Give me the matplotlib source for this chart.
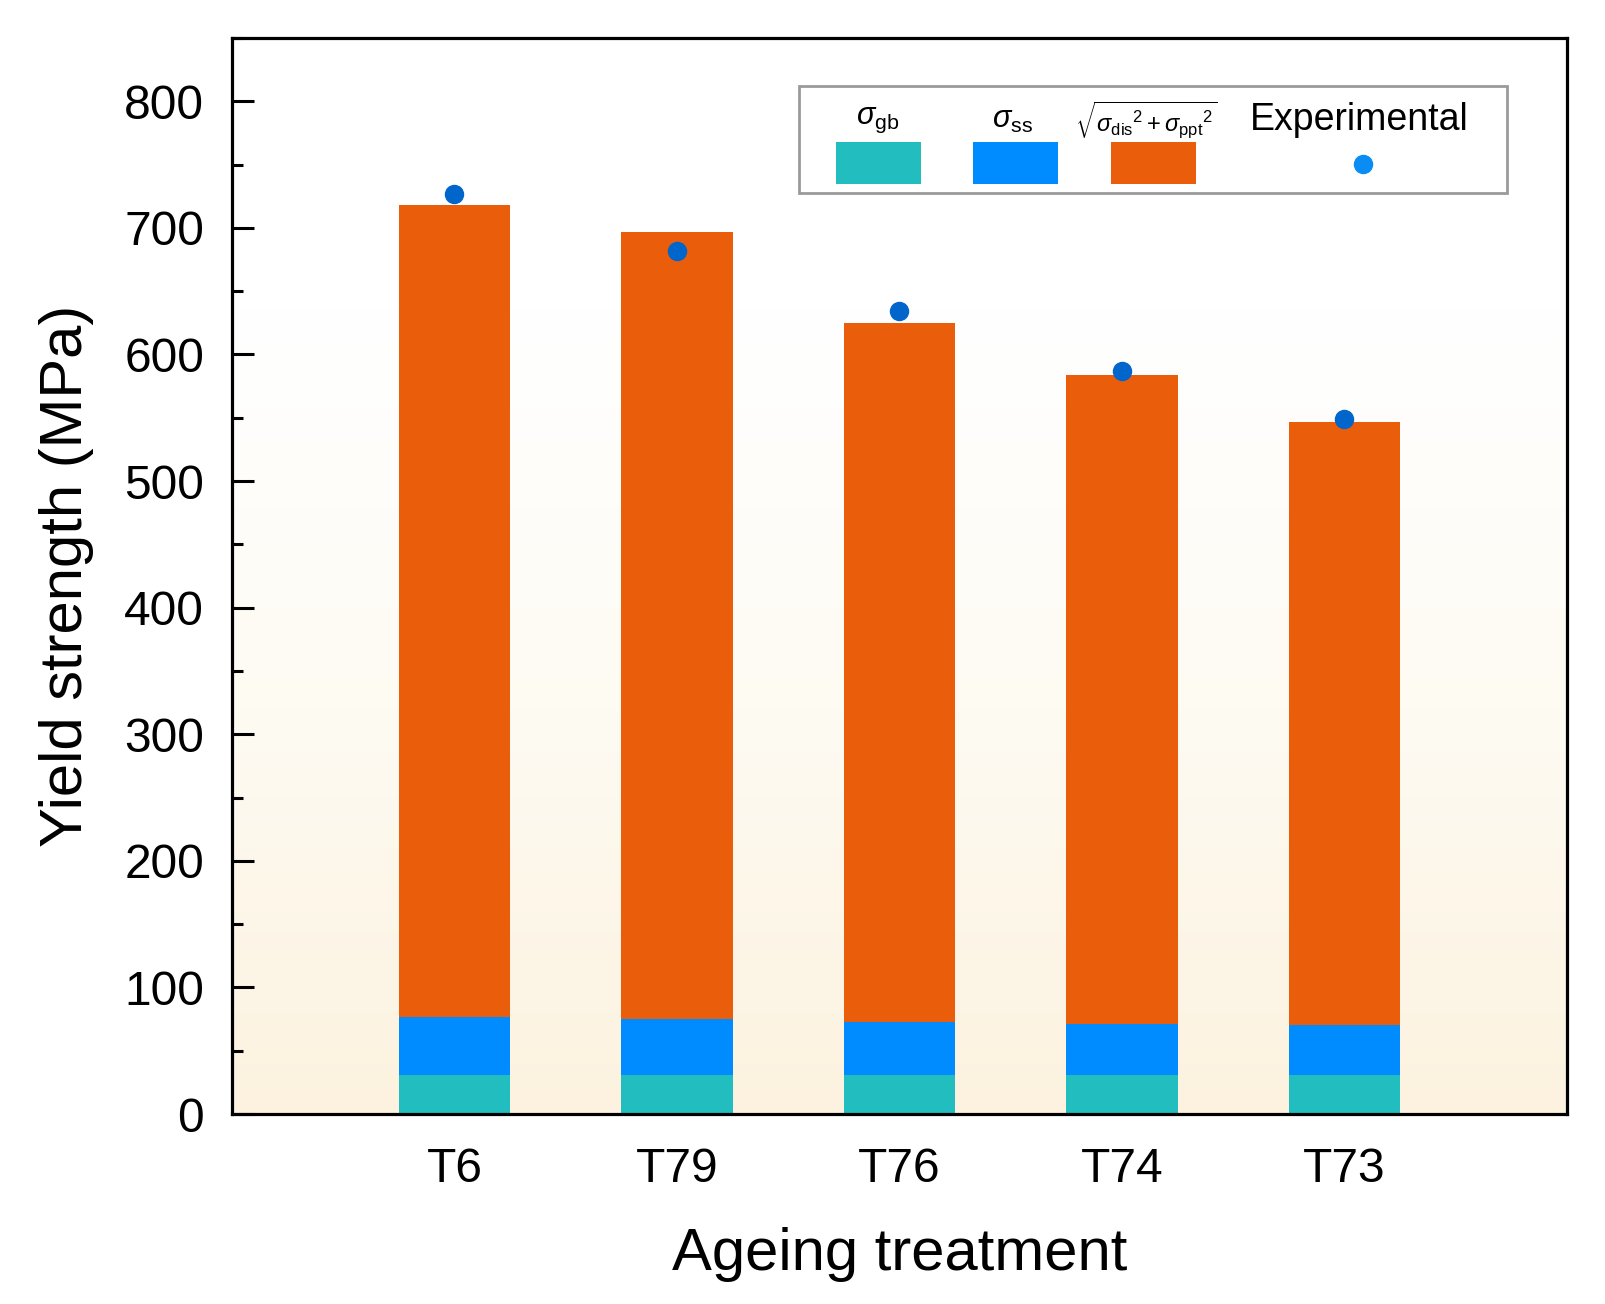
import numpy as np
import matplotlib
matplotlib.use("Agg")
import matplotlib.pyplot as plt
from matplotlib.colors import LinearSegmentedColormap
from matplotlib.patches import Rectangle
from matplotlib.ticker import MultipleLocator

plt.rcParams['font.family'] = ['Liberation Sans', 'DejaVu Sans']
plt.rcParams['mathtext.fontset'] = 'custom'
plt.rcParams['mathtext.rm'] = 'Liberation Sans'
plt.rcParams['mathtext.it'] = 'Liberation Sans:italic'

# %%
# Data (MPa)
treatments = ['T6', 'T79', 'T76', 'T74', 'T73']
sigma_gb = [31, 31, 31, 31, 31]
sigma_ss = [46, 44, 42, 40, 39]
sigma_dis_ppt = [641, 622, 552, 513, 477]
experimental = [727, 682, 634, 587, 549]

c_gb = '#21BDBF'
c_ss = '#008CFF'
c_ppt = '#EA5D0A'
c_exp = '#0066CC'
c_exp_leg = '#0A8CF5'

# %%
fig = plt.figure(figsize=(16.05, 13.04), dpi=100)
ax = fig.add_axes([0.1445, 0.1457, 0.8318, 0.8252])

x = np.arange(len(treatments))
width = 0.5
gb = np.array(sigma_gb)
ss = np.array(sigma_ss)
ppt = np.array(sigma_dis_ppt)

ax.bar(x, gb, width, color=c_gb, zorder=2)
ax.bar(x, ss, width, bottom=gb, color=c_ss, zorder=2)
ax.bar(x, ppt, width, bottom=gb + ss, color=c_ppt, zorder=2)
ax.plot(x, experimental, 'o', color=c_exp, markersize=13, zorder=3)

ax.set_xlim(-1, 5)
ax.set_ylim(0, 850)

# background gradient: cream at the bottom fading to white
grad = np.linspace(0, 1, 256).reshape(-1, 1)
cmap = LinearSegmentedColormap.from_list('bg', ['#FCF2DF', '#FEFBF3', '#FFFFFF'])
ax.imshow(grad, cmap=cmap, aspect='auto', extent=[0, 1, 0, 1], origin='lower',
          transform=ax.transAxes, zorder=0, vmin=0, vmax=0.75)

# ticks
ax.set_xticks(x)
ax.set_xticklabels(treatments)
ax.yaxis.set_major_locator(MultipleLocator(100))
ax.yaxis.set_minor_locator(MultipleLocator(50))
ax.tick_params(axis='x', length=0, labelsize=34.5, pad=24)
ax.tick_params(axis='y', which='major', direction='in', length=15.5, width=2.2,
               labelsize=34.5, pad=20)
ax.tick_params(axis='y', which='minor', direction='in', length=7.7, width=2.2)
for s in ax.spines.values():
    s.set_linewidth(2.3)
    s.set_zorder(4)

ax.set_xlabel('Ageing treatment', fontsize=43, labelpad=25)
ax.set_ylabel('Yield strength (MPa)', fontsize=43, labelpad=22)

# %%
# legend, labels above the swatches
ax.add_patch(Rectangle((0.4247, 0.856), 0.5303, 0.0994, transform=ax.transAxes,
                       facecolor='white', edgecolor='#9A9A9A', lw=2, zorder=5))
swatches = [(0.4524, c_gb), (0.555, c_ss), (0.6584, c_ppt)]
for x0, c in swatches:
    ax.add_patch(Rectangle((x0, 0.8643), 0.0637, 0.039, transform=ax.transAxes,
                           facecolor=c, edgecolor='none', zorder=6))
ax.plot([0.8472], [0.8829], 'o', color=c_exp_leg, markersize=13,
        transform=ax.transAxes, zorder=6, clip_on=False)

labels = [(0.4839, r'$\sigma_{\mathrm{gb}}$', 22),
          (0.585, r'$\sigma_{\mathrm{ss}}$', 22),
          (0.6846, r'$\sqrt{\sigma_{\mathrm{dis}}{}^{2}+\sigma_{\mathrm{ppt}}{}^{2}}$', 17),
          (0.8442, 'Experimental', 27)]
for lx, txt, fs in labels:
    ax.text(lx, 0.9238, txt, transform=ax.transAxes, ha='center', va='center',
            fontsize=fs, zorder=6)

fig.savefig('out.png', dpi=100)
